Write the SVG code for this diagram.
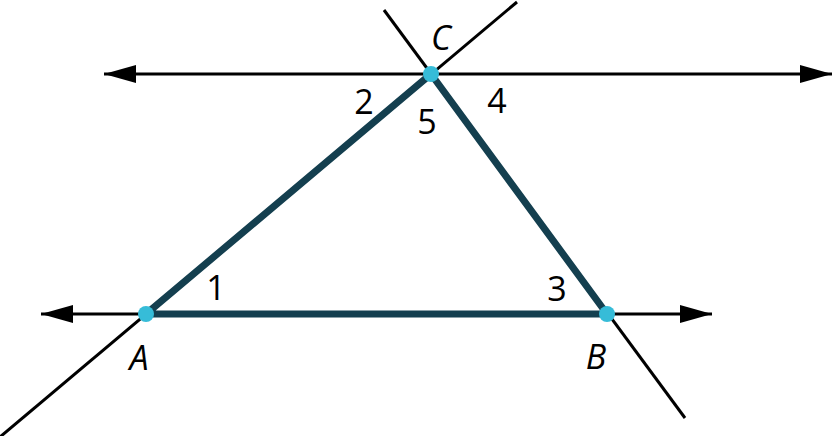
<svg xmlns="http://www.w3.org/2000/svg" width="833" height="436" viewBox="0 0 833 436">
<style>
.ln{stroke:#000;stroke-width:3;fill:none}
.tri{stroke:#143f4f;stroke-width:7;fill:none;stroke-linejoin:round}
.dot{fill:#36bcd8}
.lbl{font-family:"Open Sans","Noto Sans",sans-serif;font-size:34px;fill:#000;text-anchor:middle}
.it{font-style:italic}
</style>
<defs>
<marker id="ah" viewBox="0 0 32 18" refX="32" refY="9" markerWidth="32" markerHeight="18" markerUnits="userSpaceOnUse" orient="auto">
<path d="M0,0 L32,9 L0,18 Z" fill="#000"/>
</marker>
</defs>
<rect width="833" height="436" fill="#fff"/>
<g id="connectors">
<line class="ln" x1="431" y1="74" x2="104" y2="74" marker-end="url(#ah)"/>
<line class="ln" x1="431" y1="74" x2="832" y2="74" marker-end="url(#ah)"/>
<line class="ln" x1="146" y1="314" x2="41" y2="314" marker-end="url(#ah)"/>
<line class="ln" x1="607" y1="314" x2="712" y2="314" marker-end="url(#ah)"/>
<line class="ln" x1="0" y1="437" x2="517" y2="2"/>
<line class="ln" x1="384" y1="10" x2="685" y2="418"/>
<polygon id="triangle" class="tri" points="146,314 607,314 431,74"/>
</g>
<g id="A"><circle class="dot" cx="146" cy="314" r="8"/><text class="lbl it" x="139" y="370">A</text></g>
<g id="B"><circle class="dot" cx="607" cy="314" r="8"/><text class="lbl it" x="596" y="369">B</text></g>
<g id="C"><circle class="dot" cx="431" cy="74" r="8"/><text class="lbl it" x="441" y="50">C</text></g>
<g id="angles">
<text class="lbl" x="216" y="300">1</text>
<text class="lbl" x="364" y="114">2</text>
<text class="lbl" x="557" y="301">3</text>
<text class="lbl" x="497" y="113">4</text>
<text class="lbl" x="427" y="134">5</text>
</g>
</svg>
